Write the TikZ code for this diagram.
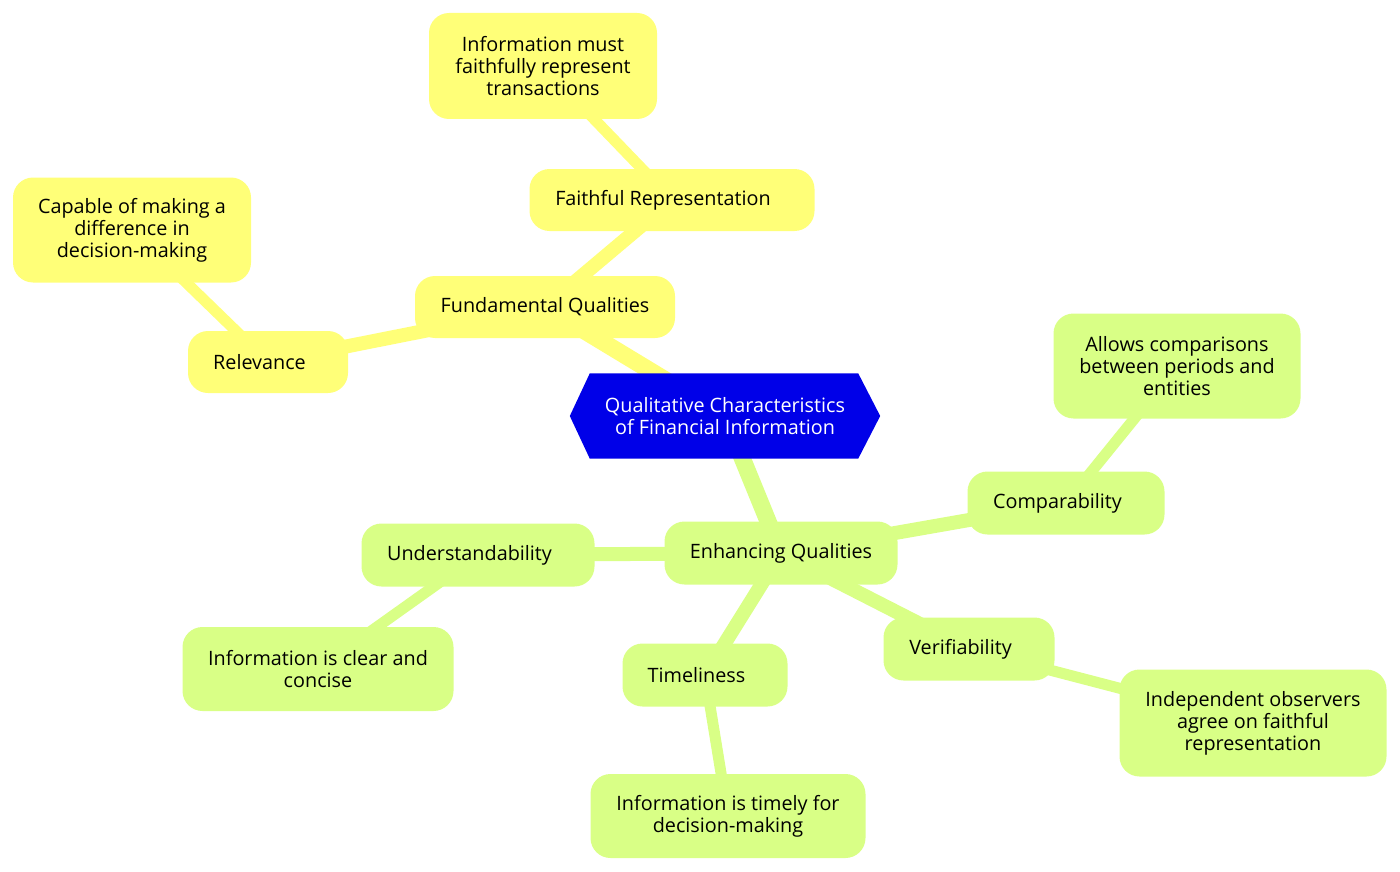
\documentclass[tikz,border=0pt]{standalone}
\usepackage{fontspec}
\setmainfont{Open Sans}
\usetikzlibrary{backgrounds}
\definecolor{yel}{RGB}{255,255,120}
\definecolor{grn}{RGB}{217,255,134}
\definecolor{rootblue}{RGB}{0,0,232}
\begin{document}
\begin{tikzpicture}[x=1pt,y=-1pt,
  every node/.style={font=\fontsize{19.8}{22}\selectfont, align=center, inner sep=0pt},
  ybox/.style={fill=yel, rounded corners=20pt, minimum height=62pt},
  gbox/.style={fill=grn, rounded corners=20pt, minimum height=63pt},
  e0/.style={line width=17pt},
  e1/.style={line width=14pt},
  e2/.style={line width=11pt}]
\useasboundingbox (0,0) rectangle (1400,872);
% root
\node[text=white, minimum width=310pt, minimum height=85pt] (root) at (725,416) {Qualitative Characteristics\\of Financial Information};
% yellow branch
\node[ybox, minimum width=260pt] (fund) at (545,307) {Fundamental Qualities};
\node[ybox, minimum width=285pt] (faith) at (672,200) {Faithful Representation\hspace{18pt}};
\node[ybox, minimum width=228pt, minimum height=106pt] (faithd) at (543,66) {Information must\\faithfully represent\\transactions};
\node[ybox, minimum width=160pt] (rel) at (268,362) {Relevance\hspace{17pt}};
\node[ybox, minimum width=238pt, minimum height=105pt] (reld) at (132,230) {Capable of making a\\difference in\\decision-making};
% green branch
\node[gbox, minimum width=233pt] (enh) at (781,553) {Enhancing Qualities};
\node[gbox, minimum width=197pt] (comp) at (1066,503) {Comparability\hspace{17pt}};
\node[gbox, minimum width=247pt, minimum height=105pt] (compd) at (1177,366) {Allows comparisons\\between periods and\\entities};
\node[gbox, minimum width=233pt] (und) at (478,555) {Understandability\hspace{17pt}};
\node[gbox, minimum width=271pt, minimum height=84pt] (undd) at (318,669) {Information is clear and\\concise};
\node[gbox, minimum width=165pt] (time) at (705,675) {Timeliness\hspace{17pt}};
\node[gbox, minimum width=275pt, minimum height=84pt] (timed) at (728,816) {Information is timely for\\decision-making};
\node[gbox, minimum width=171pt] (ver) at (969,649) {Verifiability\hspace{17pt}};
\node[gbox, minimum width=267pt, minimum height=107pt] (verd) at (1253,723) {Independent observers\\agree on faithful\\representation};
\begin{pgfonlayer}{background}
\draw[e0, yel] (root.center) -- (fund.center);
\draw[e1, yel] (fund.center) -- (faith.center);
\draw[e2, yel] (faith.center) -- (faithd.center);
\draw[e1, yel] (fund.center) -- (rel.center);
\draw[e2, yel] (rel.center) -- (reld.center);
\draw[e0, grn] (root.center) -- (enh.center);
\draw[e1, grn] (enh.center) -- (comp.center);
\draw[e2, grn] (comp.center) -- (compd.center);
\draw[e1, grn] (enh.center) -- (und.center);
\draw[e2, grn] (und.center) -- (undd.center);
\draw[e1, grn] (enh.center) -- (time.center);
\draw[e2, grn] (time.center) -- (timed.center);
\draw[e1, grn] (enh.center) -- (ver.center);
\draw[e2, grn] (ver.center) -- (verd.center);
\fill[rootblue] (root.west) -- ([xshift=20pt]root.north west) -- ([xshift=-22pt]root.north east) -- (root.east) -- ([xshift=-22pt]root.south east) -- ([xshift=20pt]root.south west) -- cycle;
\end{pgfonlayer}
\end{tikzpicture}
\end{document}
